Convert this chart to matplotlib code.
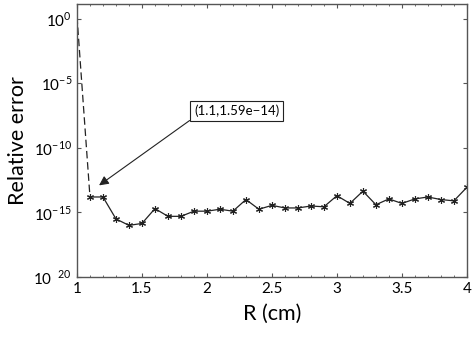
import numpy as np
import matplotlib.pyplot as plt
from matplotlib.ticker import FixedLocator, MultipleLocator

plt.rcParams['font.family'] = ['Lato', 'DejaVu Sans']
plt.rcParams['mathtext.fontset'] = 'custom'
plt.rcParams['mathtext.rm'] = 'Lato'

# relative error vs radius (log10 of the error)
r_first = [1.0, 1.1]
log_err_first = [0.2, np.log10(1.59e-14)]
r = np.round(np.arange(1.1, 4.01, 0.1), 1)
log_err = [-13.8, -13.8, -15.5, -16.0, -15.85, -14.7, -15.3, -15.3, -14.9, -14.9,
           -14.75, -14.9, -14.0, -14.75, -14.45, -14.65, -14.65, -14.5, -14.56, -13.7,
           -14.3, -13.35, -14.4, -13.95, -14.3, -13.95, -13.8, -14.0, -14.1, -13.05]
err = 10.0 ** np.array(log_err)
err_first = 10.0 ** np.array(log_err_first)

ytick_vals = [1e-20, 1e-15, 1e-10, 1e-5, 1e0]
ytick_labels = [r'$10^{\ \ 20}$', r'$10^{-15}$', r'$10^{-10}$', r'$10^{-5}$', r'$10^{0}$']
xtick_vals = [1, 1.5, 2, 2.5, 3, 3.5, 4]
xtick_labels = ['1', '1.5', '2', '2.5', '3', '3.5', '4']

fig = plt.figure(figsize=(4.74, 3.49), dpi=100)
ax = fig.add_axes([0.1624, 0.2063, 0.8226, 0.7822])

# dashed drop from R=1, then the solid curve with asterisk markers
ax.plot(r_first, err_first, color='#222222', lw=0.9, ls=(0, (6, 3)))
ax.plot(r, err, color='#222222', lw=0.9, marker=(6, 2, 0), ms=5, mew=0.8, mec='#222222')

ax.set_yscale('log')
ax.set_xlim(1, 4)
ax.set_ylim(1e-20, 10 ** 1.15)
ax.yaxis.set_major_locator(FixedLocator(ytick_vals))
ax.yaxis.set_minor_locator(FixedLocator([]))
ax.set_yticks(ytick_vals)
ax.set_yticklabels(ytick_labels)
ax.set_xticks(xtick_vals)
ax.set_xticklabels(xtick_labels)
ax.xaxis.set_minor_locator(MultipleLocator(0.1))

ax.tick_params(which='both', direction='in', top=True, right=True, labelsize=11, color='#555555')
ax.tick_params(which='major', length=3)
ax.tick_params(which='minor', length=1.5)
for s in ax.spines.values():
    s.set_color('#555555')
    s.set_linewidth(1.0)

ax.set_xlabel('R (cm)', fontsize=15.5, labelpad=6)
ax.set_ylabel('Relative error', fontsize=15.5, labelpad=4)

ax.annotate('(1.1,1.59e\u221214)', xy=(1.17, 10 ** -12.9), xytext=(1.9, 10 ** -7.15),
            fontsize=9.5, ha='left', va='center',
            bbox=dict(boxstyle='square,pad=0.3', fc='white', ec='#222222', lw=0.8),
            arrowprops=dict(arrowstyle='-|>', color='#222222', lw=0.8,
                            mutation_scale=14, shrinkA=0, shrinkB=0,
                            relpos=(0.0, 0.0)))

fig.savefig('out.png', dpi=100)
